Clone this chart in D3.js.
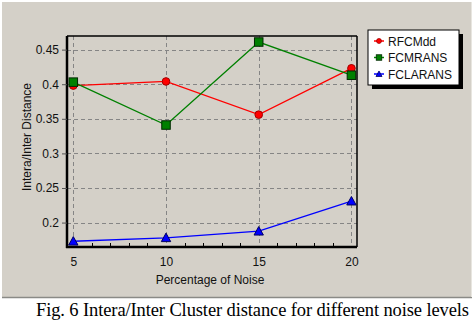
<!DOCTYPE html>
<html>
<head>
<meta charset="utf-8">
<script src="https://cdn.jsdelivr.net/npm/d3@7"></script>
<style>
  html, body { margin: 0; padding: 0; background: #fff; }
  svg { display: block; }
</style>
</head>
<body>
<svg id="chart" width="474" height="322"></svg>
<script>
// Noise levels (percent) and cluster distance ratios per algorithm
const noise = [5, 10, 15, 20];
const rfcmdd = [0.398, 0.404, 0.356, 0.423];
const fcmrans = [0.403, 0.341, 0.461, 0.413];
const fclarans = [0.173, 0.178, 0.1875, 0.231];
const yTicks = [0.2, 0.25, 0.3, 0.35, 0.4, 0.45];
const seriesNames = ["RFCMdd", "FCMRANS", "FCLARANS"];

const series = [
  { name: seriesNames[0], values: rfcmdd, color: "#ff0000", stroke: "#a00000", shape: "circle" },
  { name: seriesNames[1], values: fcmrans, color: "#008000", stroke: "#002800", shape: "square" },
  { name: seriesNames[2], values: fclarans, color: "#0000ff", stroke: "#000060", shape: "triangle" }
];

const svg = d3.select("#chart");
const panel = { x: 2, y: 2, w: 470, h: 295 };
const plot = { left: 67, top: 36, right: 357, bottom: 247 };

// Window-style gray panel
svg.append("rect").attr("x", panel.x).attr("y", panel.y)
  .attr("width", panel.w).attr("height", panel.h).attr("fill", "#d4d0c8");
svg.append("line").attr("x1", panel.x).attr("x2", panel.x + panel.w)
  .attr("y1", panel.y + panel.h + 0.5).attr("y2", panel.y + panel.h + 0.5)
  .attr("stroke", "#8a8a86").attr("stroke-width", 1.5);
svg.append("line").attr("x1", panel.x + panel.w - 0.5).attr("x2", panel.x + panel.w - 0.5)
  .attr("y1", panel.y).attr("y2", panel.y + panel.h)
  .attr("stroke", "#e8e6e0").attr("stroke-width", 1);

const x = d3.scaleLinear().domain([4.66, 20.3]).range([plot.left, plot.right]);
const y = d3.scaleLinear().domain([0.1647, 0.4697]).range([plot.bottom, plot.top]);

const sans = "Arial, 'Liberation Sans', sans-serif";

// Dashed grid
const grid = svg.append("g").attr("stroke", "#858585").attr("stroke-width", 1)
  .attr("stroke-dasharray", "4,3");
grid.selectAll(".gx").data(noise).join("line")
  .attr("x1", d => Math.round(x(d)) + 0.5).attr("x2", d => Math.round(x(d)) + 0.5)
  .attr("y1", plot.top).attr("y2", plot.bottom);
grid.selectAll(".gy").data(yTicks).join("line")
  .attr("x1", plot.left).attr("x2", plot.right)
  .attr("y1", d => Math.round(y(d)) + 0.5).attr("y2", d => Math.round(y(d)) + 0.5);

// Minor ticks pointing up from the bottom axis
const minor = d3.range(5, 21).filter(v => v % 5 !== 0);
svg.append("g").selectAll("line").data(minor).join("line")
  .attr("x1", d => Math.round(x(d)) + 0.5).attr("x2", d => Math.round(x(d)) + 0.5)
  .attr("y1", plot.bottom).attr("y2", plot.bottom - 4)
  .attr("stroke", "#000").attr("stroke-width", 1);

// Plot frame: heavy left/bottom, thin top/right
svg.append("line").attr("x1", plot.left).attr("x2", plot.right)
  .attr("y1", plot.top).attr("y2", plot.top).attr("stroke", "#000").attr("stroke-width", 1.5);
svg.append("line").attr("x1", plot.right).attr("x2", plot.right)
  .attr("y1", plot.top).attr("y2", plot.bottom).attr("stroke", "#000").attr("stroke-width", 1.5);

// Axes via d3-axis
const yAxis = svg.append("g").attr("transform", `translate(${plot.left},0)`)
  .call(d3.axisLeft(y).tickValues(yTicks).tickFormat(d3.format("")).tickSize(5).tickPadding(3));
const xAxis = svg.append("g").attr("transform", `translate(0,${plot.bottom})`)
  .call(d3.axisBottom(x).tickValues(noise).tickFormat(d3.format("d")).tickSize(0).tickPadding(10));
[xAxis, yAxis].forEach(a => {
  a.select(".domain").attr("stroke", "#000").attr("stroke-width", 2.5);
  a.selectAll("text").attr("font-family", sans).attr("font-size", 12).attr("fill", "#111");
  a.selectAll(".tick line").attr("stroke", "#555");
});
yAxis.select(".domain").attr("d", `M0,${plot.top}V${plot.bottom + 1}`);
xAxis.select(".domain").attr("d", `M${plot.left - 1},0H${plot.right}`);

// Axis titles
svg.append("text").attr("x", 210).attr("y", 284).attr("text-anchor", "middle")
  .attr("font-family", sans).attr("font-size", 12).attr("fill", "#111").text("Percentage of Noise");
svg.append("text").attr("transform", "translate(31,137) rotate(-90)").attr("text-anchor", "middle")
  .attr("font-family", sans).attr("font-size", 12).attr("fill", "#111").text("Intera/Inter Distance");

// Marker drawing helper
function marker(g, shape, size) {
  if (shape === "circle") return g.append("circle").attr("r", size * 0.45);
  if (shape === "square") return g.append("rect").attr("x", -size / 2).attr("y", -size / 2)
    .attr("width", size).attr("height", size);
  return g.append("path").attr("d", `M0,${-size * 0.55}L${size * 0.55},${size * 0.45}L${-size * 0.55},${size * 0.45}Z`);
}

const line = d3.line().x(d => x(d[0])).y(d => y(d[1]));
series.forEach(s => {
  const pts = noise.map((n, i) => [n, s.values[i]]);
  svg.append("path").datum(pts).attr("d", line).attr("fill", "none")
    .attr("stroke", s.color).attr("stroke-width", 1.3);
});
series.forEach(s => {
  noise.forEach((n, i) => {
    const g = svg.append("g").attr("transform", `translate(${x(n)},${y(s.values[i])})`);
    marker(g, s.shape, s.shape === "circle" ? 8.5 : 8.5)
      .attr("fill", s.color).attr("stroke", s.stroke).attr("stroke-width", 1);
  });
});

// Legend with drop shadow
const lg = svg.append("g").attr("transform", "translate(368,30)");
lg.append("rect").attr("x", 4).attr("y", 4).attr("width", 91).attr("height", 55).attr("fill", "#000");
lg.append("rect").attr("x", 0).attr("y", 0).attr("width", 91).attr("height", 55)
  .attr("fill", "#fff").attr("stroke", "#000").attr("stroke-width", 1);
series.forEach((s, i) => {
  const row = lg.append("g").attr("transform", `translate(11,${11 + i * 16.5})`);
  row.append("line").attr("x1", -5).attr("x2", 5).attr("stroke", s.color).attr("stroke-width", 1.5);
  marker(row, s.shape, 5.5).attr("fill", s.color).attr("stroke", s.stroke).attr("stroke-width", 0.8);
  row.append("text").attr("x", 9).attr("y", 4.5).attr("font-family", sans).attr("font-size", 12)
    .attr("fill", "#111").text(s.name);
});

// Figure caption
svg.append("text").attr("x", 36).attr("y", 316).attr("font-family", "'Times New Roman', 'Liberation Serif', serif")
  .attr("font-size", 18.5).attr("textLength", 433).attr("lengthAdjust", "spacing")
  .text("Fig. 6 Intera/Inter Cluster distance for different noise levels");
</script>
</body>
</html>
